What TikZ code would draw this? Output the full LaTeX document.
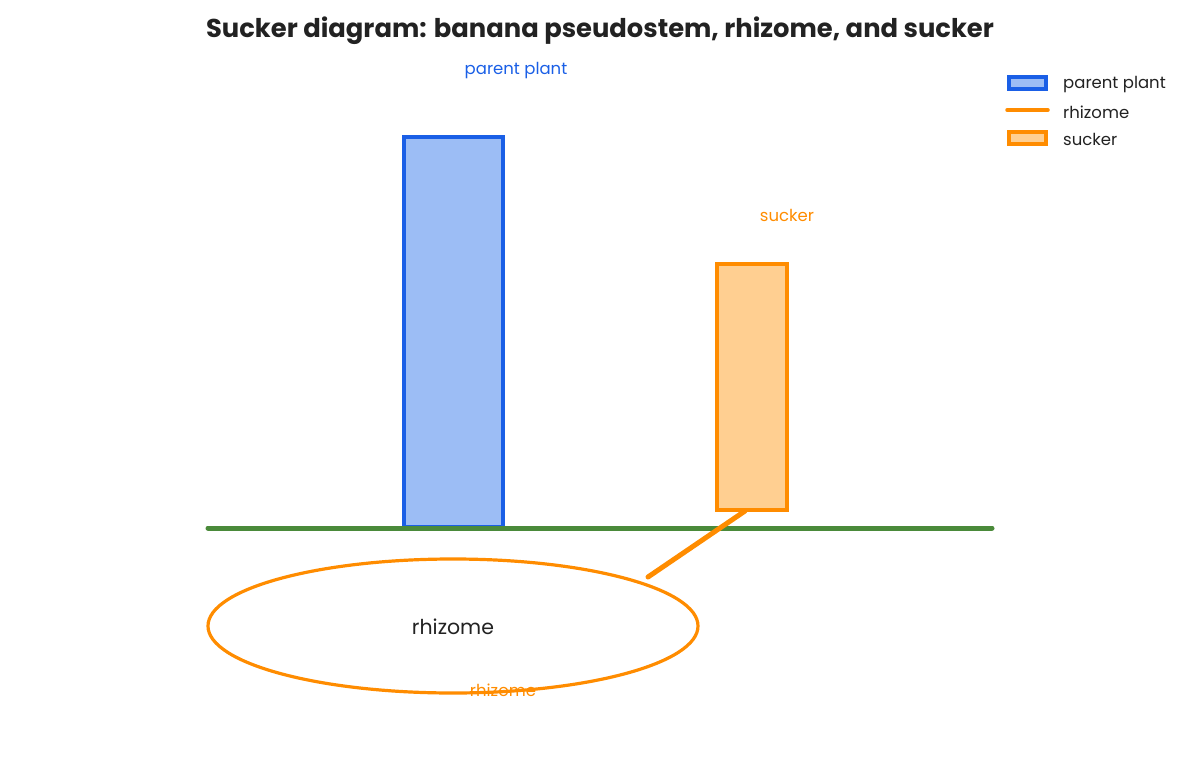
\documentclass[tikz,border=0pt]{standalone}
\usepackage{fontspec}
\setmainfont{Poppins}
\usetikzlibrary{shapes.geometric}
\definecolor{pblue}{HTML}{1A5FE6}
\definecolor{pbluef}{HTML}{9CBDF5}
\definecolor{porange}{HTML}{FF8C00}
\definecolor{porangef}{HTML}{FFCF91}
\definecolor{pgreen}{HTML}{4A8A3A}
\definecolor{ptext}{HTML}{222222}
\begin{document}
\begin{tikzpicture}[x=1pt,y=-1pt,
  parentbox/.style={draw=pblue,fill=pbluef,line width=4.5pt},
  suckerbox/.style={draw=porange,fill=porangef,line width=4.5pt},
  rhizline/.style={draw=porange,line width=5pt},
  lbl/.style={font=\fontsize{16.5}{19}\selectfont,inner sep=0pt},
  legtext/.style={font=\fontsize{16.5}{19}\selectfont,text=ptext,anchor=west,inner sep=0pt}]
\useasboundingbox (0,0) rectangle (1200,763);
\node[font=\bfseries\fontsize{25.8}{30}\selectfont,text=ptext] (title) at (600,31) {Sucker diagram: banana pseudostem, rhizome, and sucker};
% parent plant
\draw[parentbox] (404,137) rectangle (503,527);
\node (parentlbl) [lbl,text=pblue] at (516,70.5) {parent plant};
% sucker
\draw[suckerbox] (717,264) rectangle (787,510);
\coordinate (suckerbase) at (745,511);
\node (suckerlbl) [lbl,text=porange] at (787,215.5) {sucker};
% ground
\coordinate (gl) at (208,528);
\coordinate (gr) at (992,528);
\draw[pgreen,line width=5pt,line cap=round] (gl) -- (gr);
% rhizome
\node (rhiz) [draw=porange,line width=3.2pt,ellipse,minimum width=490pt,minimum height=134pt,inner sep=0pt] at (453,626) {};
\node[font=\fontsize{20.5}{24}\selectfont,text=ptext] at (453,627) {rhizome};
\coordinate (rhiztop) at (648,577);
\draw[rhizline,line cap=round] (suckerbase) -- (rhiztop);
\node (rhizlbl) [lbl,text=porange] at (503,690.5) {rhizome};
% legend
\draw[draw=pblue,fill=pbluef,line width=4pt] (1009,77) rectangle (1046,89);
\node (lg1) [legtext] at (1063,85) {parent plant};
\coordinate (l2a) at (1007,110);
\coordinate (l2b) at (1048,110);
\draw[porange,line width=3.5pt,line cap=round] (l2a) -- (l2b);
\node (lg2) [legtext] at (1063,112) {rhizome};
\draw[draw=porange,fill=porangef,line width=4pt] (1009,132) rectangle (1046,144);
\node (lg3) [legtext] at (1063,139) {sucker};
\end{tikzpicture}
\end{document}
